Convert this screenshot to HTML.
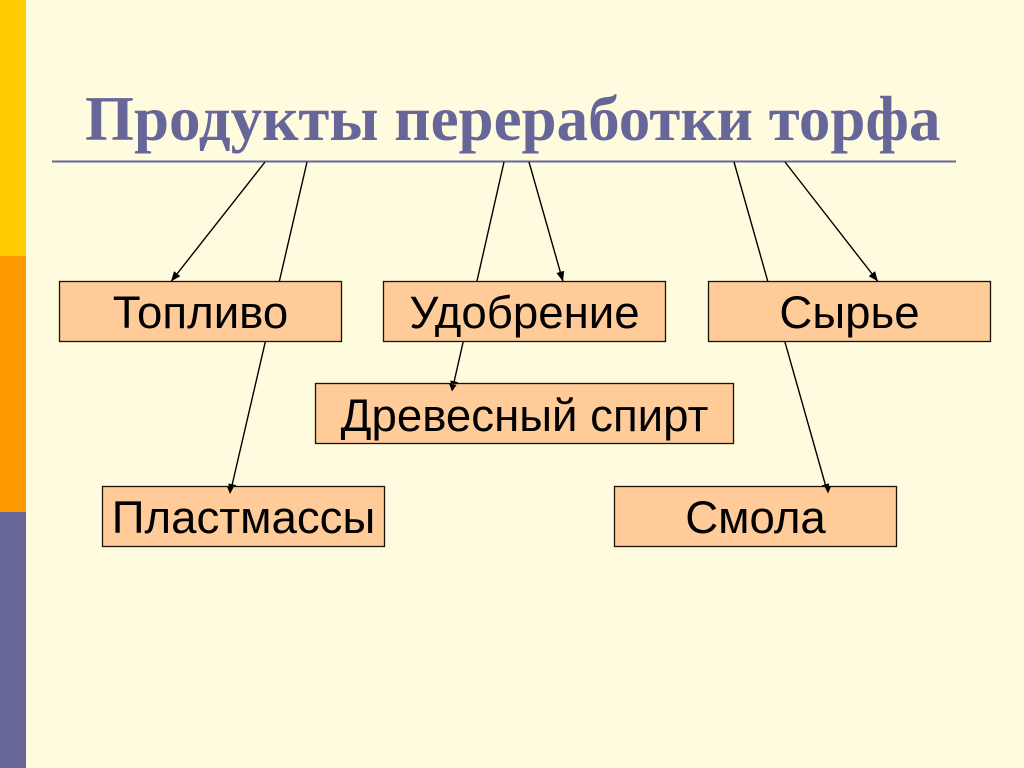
<!DOCTYPE html>
<html lang="ru"><head><meta charset="utf-8"><title>Продукты переработки торфа</title>
<style>
html,body{margin:0;padding:0;width:1024px;height:768px;overflow:hidden;background:#FFFBDF}
svg{display:block}
.t{font-family:"Liberation Serif",serif;font-weight:bold;font-size:63px;fill:#666699}
.b{font-family:"Liberation Sans",sans-serif;font-size:45.6px;fill:#000;text-anchor:middle}
rect.n{fill:#FFCC99;stroke:#1a1208;stroke-width:1.3}
line.c{stroke:#000;stroke-width:1.4}
</style></head><body>
<svg width="1024" height="768" viewBox="0 0 1024 768" xmlns="http://www.w3.org/2000/svg">
<defs><marker id="a" markerUnits="userSpaceOnUse" markerWidth="11" markerHeight="11" refX="10" refY="5" orient="auto"><path d="M0,1 L10,5 L0,9 Z" fill="#000"/></marker></defs>
<rect x="0" y="0" width="1024" height="768" fill="#FFFBDF"/>
<rect x="0" y="0" width="26" height="256" fill="#FFCC00"/>
<rect x="0" y="256" width="26" height="256" fill="#FF9900"/>
<rect x="0" y="512" width="26" height="256" fill="#666699"/>
<text class="t" x="85" y="140">Продукты переработки торфа</text>
<rect x="52" y="160.500" width="904" height="2" fill="#666699"/>
<line class="c" x1="265" y1="162" x2="171" y2="281.500" marker-end="url(#a)"/>
<line class="c" x1="307" y1="162" x2="230" y2="494" marker-end="url(#a)"/>
<line class="c" x1="504" y1="162" x2="452" y2="391" marker-end="url(#a)"/>
<line class="c" x1="529" y1="162" x2="563" y2="281.500" marker-end="url(#a)"/>
<line class="c" x1="734" y1="162" x2="828" y2="494" marker-end="url(#a)"/>
<line class="c" x1="785" y1="162" x2="878" y2="281.500" marker-end="url(#a)"/>
<rect class="n" x="59.500" y="281.500" width="282" height="60"/>
<rect class="n" x="383.500" y="281.500" width="282" height="60"/>
<rect class="n" x="708.500" y="281.500" width="282" height="60"/>
<rect class="n" x="315.500" y="383.500" width="418" height="60"/>
<rect class="n" x="102.500" y="486.500" width="282" height="60"/>
<rect class="n" x="614.500" y="486.500" width="282" height="60"/>
<text class="b" x="200.500" y="328">Топливо</text>
<text class="b" x="524.500" y="328">Удобрение</text>
<text class="b" x="849.500" y="328">Сырье</text>
<text class="b" x="524.500" y="431">Древесный спирт</text>
<text class="b" x="243.500" y="533">Пластмассы</text>
<text class="b" x="755.500" y="533">Смола</text>
<path d="M227,486.500 L234,486.500 L230,494 Z" fill="#000"/>
<path d="M449,383.500 L456.500,385 L452,391.500 Z" fill="#000"/>
<path d="M824.500,486.500 L831,486.500 L828,493.500 Z" fill="#000"/>
</svg>
</body></html>
